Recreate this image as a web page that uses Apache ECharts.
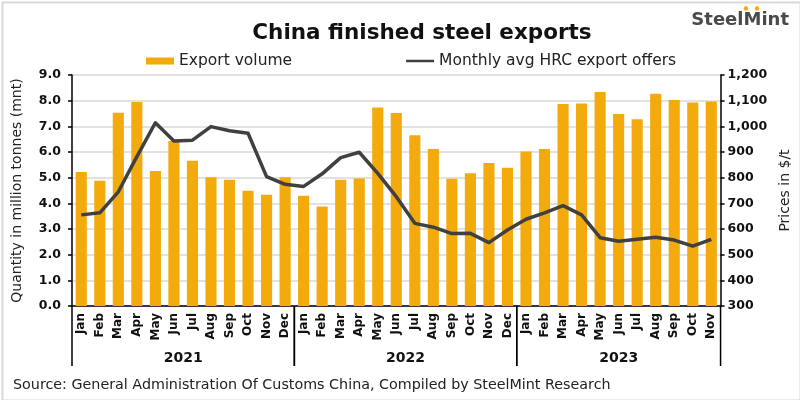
<!DOCTYPE html>
<html>
<head>
<meta charset="utf-8">
<script src="https://cdn.jsdelivr.net/npm/echarts@6/dist/echarts.min.js"></script>
<style>
html,body{margin:0;padding:0;background:#fff;}
#chart{width:800px;height:400px;}
</style>
</head>
<body>
<div id="chart"></div>
<script>
var categories = ['Jan','Feb','Mar','Apr','May','Jun','Jul','Aug','Sep','Oct','Nov','Dec',
                  'Jan','Feb','Mar','Apr','May','Jun','Jul','Aug','Sep','Oct','Nov','Dec',
                  'Jan','Feb','Mar','Apr','May','Jun','Jul','Aug','Sep','Oct','Nov'];
var exportVolume = [5.22, 4.88, 7.53, 7.95, 5.26, 6.43, 5.66, 5.02, 4.92, 4.49, 4.33, 5.02,
                    4.30, 3.88, 4.92, 4.97, 7.73, 7.52, 6.65, 6.12, 4.96, 5.17, 5.57, 5.39,
                    6.02, 6.12, 7.87, 7.89, 8.34, 7.48, 7.28, 8.27, 8.03, 7.93, 7.97];
var hrcOffers = [655, 663, 745, 882, 1014, 943, 946, 999, 983, 973, 804, 774,
                 766, 815, 878, 899, 817, 726, 622, 607, 582, 583, 547, 596,
                 638, 663, 691, 655, 566, 552, 560, 568, 557, 533, 560];
var yearLabels = ['2021', '2022', '2023'];
var yearStart = [0, 12, 24];
var yearEnd = [11, 23, 34];
var leftTicks = {min: 0, max: 9, interval: 1};
var rightTicks = {min: 300, max: 1200, interval: 100};

var FONT = 'DejaVu Sans';
var chart = echarts.init(document.getElementById('chart'), null, {renderer: 'canvas'});

var option = {
  backgroundColor: '#ffffff',
  animation: false,
  textStyle: {fontFamily: FONT},
  title: {
    text: 'China finished steel exports',
    left: 417, top: 17, textAlign: 'center',
    textStyle: {fontFamily: FONT, fontWeight: 'bold', fontSize: 21.5, color: '#111'}
  },
  legend: {
    left: 141, top: 48,
    itemWidth: 28, itemHeight: 7, itemGap: 114,
    textStyle: {fontFamily: FONT, fontSize: 15.5, color: '#222'},
    data: [
      {name: 'Export volume', icon: 'rect'},
      {name: 'Monthly avg HRC export offers',
       icon: 'path://M0,2.2H28V4.8H0Z M0,0H0.01V7H0Z',
       itemStyle: {color: '#404040'}}
    ]
  },
  grid: {left: 72, right: 68, top: 75, bottom: 94, containLabel: false},
  xAxis: {
    type: 'category',
    data: categories,
    boundaryGap: true,
    axisLine: {show: true, lineStyle: {color: '#000', width: 1.5}},
    axisTick: {show: false},
    axisLabel: {interval: 0, rotate: 90, margin: 7, fontFamily: FONT, fontWeight: 'bold', fontSize: 12, color: '#111'},
    splitLine: {show: false}
  },
  yAxis: [
    {
      type: 'value', min: leftTicks.min, max: leftTicks.max, interval: leftTicks.interval,
      name: 'Quantity in million tonnes (mnt)', nameLocation: 'middle', nameGap: 48,
      nameTextStyle: {fontFamily: FONT, fontSize: 14, color: '#222'},
      axisLine: {show: true, lineStyle: {color: '#000', width: 1.5}},
      axisTick: {show: true, length: 4, lineStyle: {color: '#000', width: 1.5}},
      axisLabel: {margin: 11, fontFamily: FONT, fontWeight: 'bold', fontSize: 12.5, color: '#111',
        formatter: function (v) { return v.toFixed(1); }},
      splitLine: {show: true, lineStyle: {color: '#d9d9d9', width: 1.5}}
    },
    {
      type: 'value', min: rightTicks.min, max: rightTicks.max, interval: rightTicks.interval,
      position: 'right',
      name: 'Prices in $/t', nameLocation: 'middle', nameGap: 52,
      nameTextStyle: {fontFamily: FONT, fontSize: 14, color: '#222'},
      axisLine: {show: true, lineStyle: {color: '#000', width: 1.5}},
      axisTick: {show: true, length: 4, lineStyle: {color: '#000', width: 1.5}},
      axisLabel: {margin: 7, fontFamily: FONT, fontWeight: 'bold', fontSize: 12.5, color: '#111',
        formatter: function (v) { return v.toLocaleString('en-US'); }},
      splitLine: {show: false}
    }
  ],
  series: [
    {
      name: 'Export volume', type: 'bar', yAxisIndex: 0,
      data: exportVolume,
      barCategoryGap: '40%',
      itemStyle: {color: '#F2AA0C'}
    },
    {
      name: 'Monthly avg HRC export offers', type: 'line', yAxisIndex: 1,
      data: hrcOffers,
      symbol: 'none',
      lineStyle: {color: '#404040', width: 3.5, join: 'round'},
      itemStyle: {color: '#404040'}
    },
    {
      name: 'years', type: 'custom', xAxisIndex: 0, yAxisIndex: 0,
      silent: true, clip: false, z: 5,
      data: yearLabels.map(function (y, i) { return [yearStart[i], 0]; }),
      renderItem: function (params, api) {
        var i = params.dataIndex;
        var a = api.coord([yearStart[i], 0]);
        var b = api.coord([yearEnd[i], 0]);
        var bw = api.size([1, 0])[0];
        var x0 = a[0] - bw / 2, x1 = b[0] + bw / 2, y = a[1];
        return {
          type: 'group',
          children: [
            {type: 'line', shape: {x1: x0, y1: y, x2: x0, y2: y + 60}, style: {stroke: '#000', lineWidth: 1.5}},
            {type: 'line', shape: {x1: x1, y1: y, x2: x1, y2: y + 60}, style: {stroke: '#000', lineWidth: 1.5}},
            {type: 'text', x: (x0 + x1) / 2, y: y + 52,
              style: {text: yearLabels[i], align: 'center', verticalAlign: 'middle',
                font: 'bold 14px "DejaVu Sans"', fill: '#111'}}
          ]
        };
      }
    }
  ],
  graphic: [
    {type: 'rect', left: 0, top: 0, shape: {x: 1, y: 1, width: 798, height: 398},
      style: {fill: 'none', stroke: '#d9d9d9', lineWidth: 2}, silent: true},
    {type: 'text', right: 11, top: 11,
      style: {text: 'SteelMint', font: 'bold 18px "DejaVu Sans"', fill: '#4a4a4a'}},
    {type: 'circle', shape: {cx: 746, cy: 8.5, r: 2.2}, style: {fill: '#F2AA0C'}},
    {type: 'circle', shape: {cx: 757, cy: 8.5, r: 2.2}, style: {fill: '#F2AA0C'}},
    {type: 'text', left: 13, top: 378,
      style: {text: 'Source: General Administration Of Customs China, Compiled by SteelMint Research',
        font: '14.3px "DejaVu Sans"', fill: '#222'}}
  ]
};
chart.setOption(option);
</script>
</body>
</html>
